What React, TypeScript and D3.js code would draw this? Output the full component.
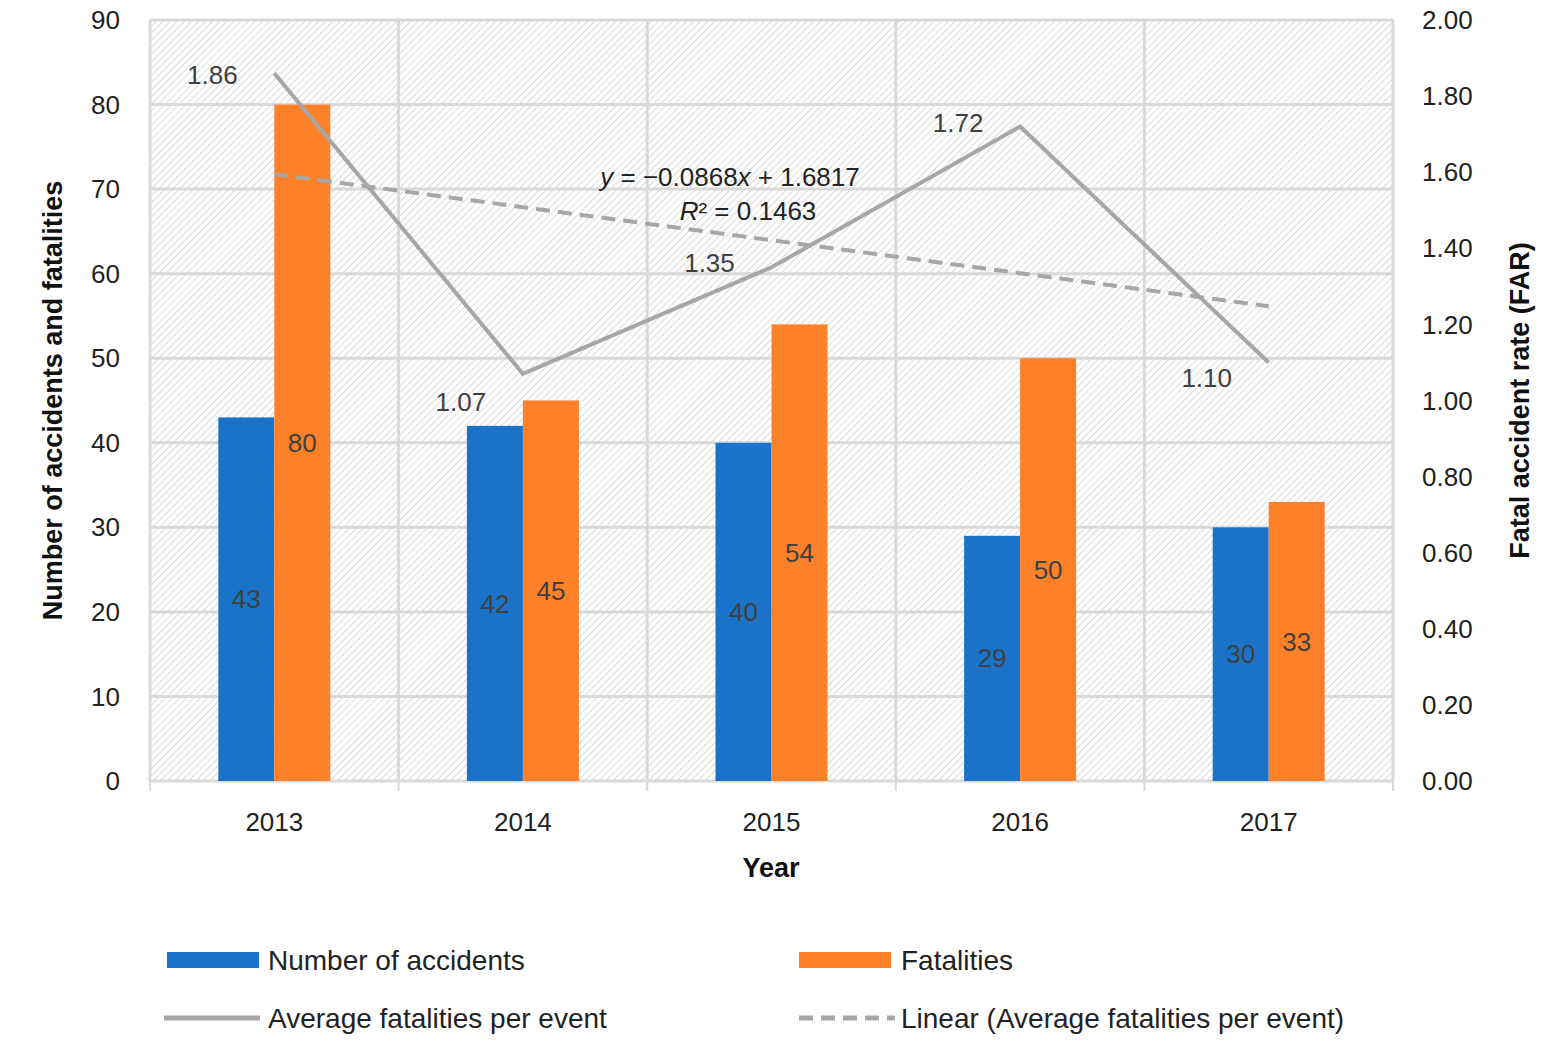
import React from "react";
import * as d3 from "d3";

const years = ["2013", "2014", "2015", "2016", "2017"];
const accidents = [43, 42, 40, 29, 30];
const fatalities = [80, 45, 54, 50, 33];
const far = [1.86, 1.07, 1.35, 1.72, 1.1];
const trendSlope = -0.0868;
const trendIntercept = 1.6817;
const leftTicks = [0, 10, 20, 30, 40, 50, 60, 70, 80, 90];
const rightTicks = [0, 0.2, 0.4, 0.6, 0.8, 1.0, 1.2, 1.4, 1.6, 1.8, 2.0];

const BLUE = "#1a73c8";
const ORANGE = "#fd8128";
const GREY = "#a6a6a6";
const FONT = "Liberation Sans, Arial, sans-serif";

export default function App() {
  const left = 150, right = 1393, top = 20, bottom = 781;
  const x = d3.scaleBand().domain(years).range([left, right]);
  const y = d3.scaleLinear().domain([0, 90]).range([bottom, top]);
  const y2 = d3.scaleLinear().domain([0, 2]).range([bottom, top]);
  const bw = 56;
  const cx = (yr: string) => (x(yr) as number) + x.bandwidth() / 2;
  const line = d3.line<number>().x((_, i) => cx(years[i])).y((d) => y2(d));
  const trend = years.map((_, i) => trendIntercept + trendSlope * (i + 1));
  // label offsets for FAR values
  const farLabelDx = [-62, -62, -62, -62, -62];
  const farLabelDy = [2, 28, -4, -4, 15];

  return (
    <svg width={1549} height={1054} style={{ position: "absolute", left: 0, top: 0 }} fontFamily={FONT}>
      <defs>
        <pattern id="hatch" width="5" height="5" patternUnits="userSpaceOnUse" patternTransform="rotate(45)">
          <rect width="5" height="5" fill="#ffffff" />
          <line x1="0" y1="0" x2="0" y2="5" stroke="#d9d9d9" strokeWidth="2" />
        </pattern>
      </defs>
      <rect x={0} y={0} width={1549} height={1054} fill="#fff" />
      <rect x={left} y={top} width={right - left} height={bottom - top} fill="url(#hatch)" />
      {leftTicks.map((t) => (
        <g key={t}>
          <line x1={left} x2={right} y1={y(t)} y2={y(t)} stroke="#d9d9d9" strokeWidth={3} />
          <text x={120} y={y(t)} dy="0.35em" textAnchor="end" fontSize={26} fill="#222">{t}</text>
        </g>
      ))}
      {years.map((yr, i) => (
        <line key={yr} x1={x(yr)} x2={x(yr)} y1={top} y2={bottom} stroke="#d9d9d9" strokeWidth={3} />
      ))}
      <line x1={right} x2={right} y1={top} y2={bottom} stroke="#d9d9d9" strokeWidth={3} />
      {years.map((yr, i) => (
        <line key={"t" + yr} x1={x(yr)} x2={x(yr)} y1={bottom} y2={bottom + 10} stroke="#d9d9d9" strokeWidth={2} />
      ))}
      <line x1={right} x2={right} y1={bottom} y2={bottom + 10} stroke="#d9d9d9" strokeWidth={2} />
      {rightTicks.map((t) => (
        <text key={t} x={1422} y={y2(t)} dy="0.35em" fontSize={26} fill="#222">{t.toFixed(2)}</text>
      ))}
      {years.map((yr, i) => (
        <g key={"b" + yr}>
          <rect x={cx(yr) - bw} y={y(accidents[i])} width={bw} height={bottom - y(accidents[i])} fill={BLUE} />
          <rect x={cx(yr)} y={y(fatalities[i])} width={bw} height={bottom - y(fatalities[i])} fill={ORANGE} />
          <text x={cx(yr) - bw / 2} y={(y(accidents[i]) + bottom) / 2} dy="0.35em" textAnchor="middle" fontSize={26} fill="#404040">{accidents[i]}</text>
          <text x={cx(yr) + bw / 2} y={(y(fatalities[i]) + bottom) / 2} dy="0.35em" textAnchor="middle" fontSize={26} fill="#404040">{fatalities[i]}</text>
          <text x={cx(yr)} y={822} dy="0.35em" textAnchor="middle" fontSize={26} fill="#222">{yr}</text>
        </g>
      ))}
      <path d={line(trend) || ""} fill="none" stroke={GREY} strokeWidth={4} strokeDasharray="14,8" />
      <path d={line(far) || ""} fill="none" stroke={GREY} strokeWidth={4} />
      {far.map((v, i) => (
        <text key={"f" + i} x={cx(years[i]) + farLabelDx[i]} y={y2(v) + farLabelDy[i]} dy="0.35em" textAnchor="middle" fontSize={26} fill="#404040">{v.toFixed(2)}</text>
      ))}
      <text x={730} y={177} dy="0.35em" textAnchor="middle" fontSize={26} fill="#222">
        <tspan fontStyle="italic">y</tspan> = −0.0868<tspan fontStyle="italic">x</tspan> + 1.6817
      </text>
      <text x={748} y={211} dy="0.35em" textAnchor="middle" fontSize={26} fill="#222">
        <tspan fontStyle="italic">R</tspan>² = 0.1463
      </text>
      <text transform={`translate(62,${(top + bottom) / 2}) rotate(-90)`} textAnchor="middle" fontSize={27} fontWeight="bold" fill="#111">Number of accidents and fatalities</text>
      <text transform={`translate(1529,${(top + bottom) / 2}) rotate(-90)`} textAnchor="middle" fontSize={27} fontWeight="bold" fill="#111">Fatal accident rate (FAR)</text>
      <text x={771} y={868} dy="0.35em" textAnchor="middle" fontSize={27} fontWeight="bold" fill="#111">Year</text>
      <rect x={167} y={952} width={92} height={16} fill={BLUE} />
      <text x={268} y={960} dy="0.35em" fontSize={28} fill="#222">Number of accidents</text>
      <rect x={799} y={952} width={92} height={16} fill={ORANGE} />
      <text x={901} y={960} dy="0.35em" fontSize={28} fill="#222">Fatalities</text>
      <line x1={164} x2={260} y1={1018} y2={1018} stroke={GREY} strokeWidth={5} />
      <text x={268} y={1018} dy="0.35em" fontSize={28} fill="#222">Average fatalities per event</text>
      <line x1={799} x2={895} y1={1018} y2={1018} stroke={GREY} strokeWidth={5} strokeDasharray="14,8" />
      <text x={901} y={1018} dy="0.35em" fontSize={28} fill="#222">Linear (Average fatalities per event)</text>
    </svg>
  );
}
